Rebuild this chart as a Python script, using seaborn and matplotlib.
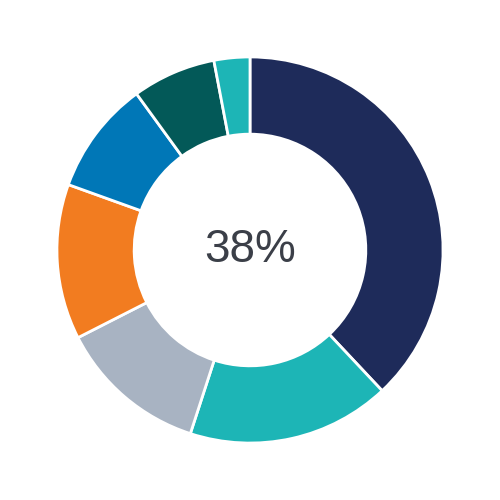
import matplotlib
matplotlib.use("Agg")
import matplotlib.pyplot as plt
import seaborn as sns

# slice shares, clockwise from 12 o'clock
labels = ["A", "B", "C", "D", "E", "F", "G"]
values = [38, 17, 12.5, 13, 9.5, 7, 3]
colors = ["#1e2b5a", "#1db5b6", "#a8b3c2", "#f27c20", "#0077b7", "#035958", "#1db5b6"]
center_text = "38%"

sns.set_style("white")
plt.rcParams["font.family"] = ["Liberation Sans", "DejaVu Sans"]

fig = plt.figure(figsize=(5, 5), dpi=100)
ax = fig.add_axes([0, 0, 1, 1])
ax.pie(values, colors=colors, startangle=90, counterclock=False,
       radius=1.0,
       wedgeprops=dict(width=0.4, edgecolor="white", linewidth=2))
ax.text(0, 0.0, center_text, ha="center", va="center", fontsize=33, color="#3b3f48")
ax.set_xlim(-1.295, 1.295)
ax.set_ylim(-1.295, 1.295)
ax.set_aspect("equal")
ax.axis("off")

fig.savefig("out.png", dpi=100, facecolor="white")
